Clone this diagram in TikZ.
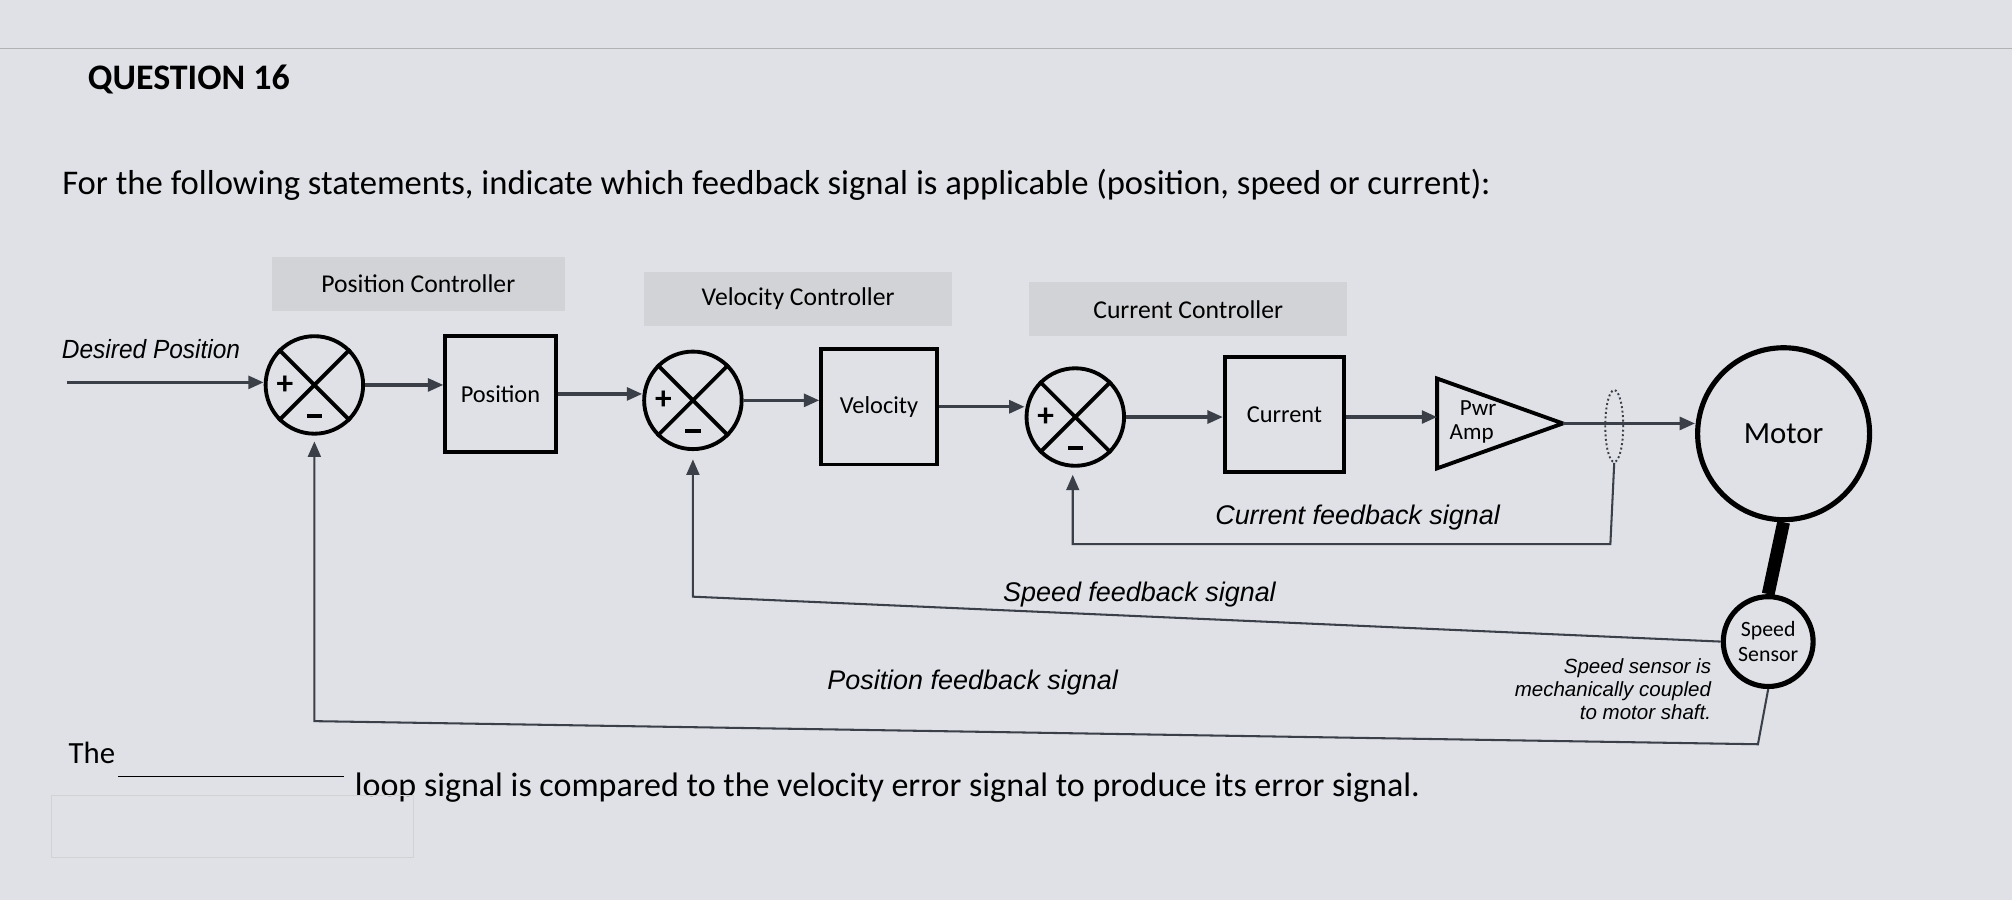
\documentclass[tikz,border=0pt]{standalone}
\usepackage{fontspec}
\setmainfont{Carlito}
\newfontfamily\arialf{Liberation Sans}
\usetikzlibrary{arrows.meta,shapes.geometric}
\definecolor{bg}{HTML}{DFE1E7}
\definecolor{lbl}{HTML}{D2D3D6}
\definecolor{ln}{HTML}{3A3F48}
\begin{document}
\begin{tikzpicture}[x=1pt,y=-1pt,
  summ/.style={circle,draw=black,line width=3pt,minimum size=76pt,inner sep=0pt},
  blk/.style={draw=black,line width=3pt,inner sep=0pt,font=\fontsize{19}{20}\selectfont},
  ctl/.style={fill=lbl,inner sep=0pt,font=\fontsize{20}{22}\selectfont},
  sig/.style={draw=ln,line width=2.5pt,-{Triangle[length=12pt,width=10pt]}},
  fb/.style={draw=ln,line width=1.6pt,-{Triangle[length=12pt,width=10pt]}},
  it/.style={font=\arialf\itshape\fontsize{21}{23}\selectfont}]
\fill[bg] (0,0) rectangle (1568,701);
\useasboundingbox (0,0) rectangle (1568,701);
\draw[gray!60,line width=1pt] (0,38) -- (1568,38);
\node[anchor=west,font=\bfseries\fontsize{28}{30}\selectfont] (q) at (65,62) {QUESTION 16};
\node[anchor=west,font=\fontsize{27}{30}\selectfont] (st) at (45,144) {For the following statements, indicate which feedback signal is applicable (position, speed or current):};
% controller labels
\node[ctl,minimum width=228pt,minimum height=42pt] (pc) at (326,221) {Position Controller};
\node[ctl,minimum width=240pt,minimum height=42pt] (vc) at (622,233) {Velocity Controller};
\node[ctl,minimum width=248pt,minimum height=42pt] (cc) at (926,241) {Current Controller};
\node[anchor=west,font=\arialf\itshape\fontsize{20.5}{22}\selectfont,xscale=0.93] (dp) at (45,272) {Desired Position};
\coordinate (in) at (52,298);
% summers
\foreach \n/\x/\y in {s1/245/300,s2/540/312,s3/838/325}{
  \node[summ] (\n) at (\x,\y) {};
  \draw[line width=3pt] (\n.north west)--(\n.south east) (\n.north east)--(\n.south west);
  \node[font=\bfseries\fontsize{26}{26}\selectfont] at ([xshift=-23pt]\n.center) {+};
  \draw[line width=3.5pt] ([xshift=-6pt,yshift=-24pt]\n.center) -- ([xshift=6pt,yshift=-24pt]\n.center);
}
\node[blk,minimum width=86pt,minimum height=90pt] (pb) at (390,307) {Position};
\node[blk,minimum width=90pt,minimum height=90pt] (vb) at (685,317) {Velocity};
\node[blk,minimum width=93pt,minimum height=90pt] (cb) at (1001,323) {Current};
\draw[line width=3pt] (1120,295) -- (1218,330) -- (1120,365) -- cycle;
\node[font=\fontsize{18}{19}\selectfont,align=left] (amp) at (1148,329) {\hspace*{8pt}Pwr\\Amp};
\coordinate (ampin) at (1120,325);
\coordinate (ampout) at (1218,330);
\node[draw=ln,dotted,line width=1.5pt,ellipse,minimum width=14pt,minimum height=56pt,inner sep=0pt] (dot) at (1258,332) {};
\node[circle,draw=black,line width=4pt,minimum size=134pt,inner sep=0pt,font=\fontsize{24}{26}\selectfont] (mot) at (1390,338) {Motor};
\node[circle,draw=black,line width=4pt,minimum size=70pt,inner sep=0pt,align=center,font=\fontsize{17}{20}\selectfont] (ss) at (1378,500) {Speed\\Sensor};
\draw[line width=10pt] (mot.south) -- (ss.north);
% forward path
\draw[sig] (in) -- (s1.west |- in);
\draw[sig] (s1.east) -- (pb.west |- s1.east);
\draw[sig] (pb.east) -- (s2.west |- pb.east);
\draw[sig] (s2.east) -- (vb.west |- s2.east);
\draw[sig] (vb.east) -- (s3.west |- vb.east);
\draw[sig] (s3.east) -- (cb.west |- s3.east);
\draw[sig] (cb.east |- ampin) -- (ampin);
\draw[sig] (ampout) -- (mot.west |- ampout);
% feedback
\coordinate (c1) at (1255,424);
\draw[fb] (dot.south) -- (c1) -- (836,424) -- (836,370);
\node[it] (cfs) at (1058,403) {Current feedback signal};
\draw[fb] (ss.west) -- (540,465) -- (540,358);
\node[it] (sfs) at (888,463) {Speed feedback signal};
\draw[fb] (ss.south) -- (1370,580) -- (245,562) -- (245,344);
\node[it] (pfs) at (758,532) {Position feedback signal};
\node[font=\arialf\itshape\fontsize{16}{18}\selectfont,align=right,anchor=east] (note) at (1337,537) {Speed sensor is\\mechanically coupled\\to motor shaft.};
% bottom
\node[anchor=west,font=\fontsize{24}{26}\selectfont] (the) at (50,587) {The};
\draw[line width=1pt] (92,605) -- (268,605);
\node[anchor=west,font=\fontsize{26.5}{28}\selectfont] (rest) at (273,614) {loop signal is compared to the velocity error signal to produce its error signal.};
\draw[gray!35,line width=0.8pt] (40,620) rectangle (322,668);
\end{tikzpicture}
\end{document}
